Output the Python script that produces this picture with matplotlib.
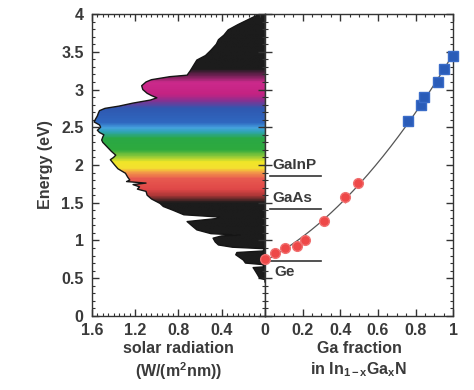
import numpy as np
import matplotlib
matplotlib.use('Agg')
import matplotlib.pyplot as plt
from matplotlib.colors import LinearSegmentedColormap
from matplotlib.ticker import MultipleLocator, FixedLocator

plt.rcParams['font.family'] = ['Liberation Sans', 'DejaVu Sans']
plt.rcParams['font.weight'] = 'bold'
plt.rcParams['axes.labelweight'] = 'bold'
plt.rcParams['mathtext.fontset'] = 'custom'
plt.rcParams['mathtext.rm'] = 'Liberation Sans:bold'
plt.rcParams['mathtext.it'] = 'Liberation Sans:bold'
plt.rcParams['mathtext.bf'] = 'Liberation Sans:bold'
txt = '#3a3a3a'

# solar spectrum, energy (eV) vs radiation (W/(m^2 nm))
spec_E = [0.45, 0.48, 0.50, 0.55, 0.62, 0.64, 0.65, 0.68, 0.70, 0.74, 0.78, 0.81,
          0.84, 0.86, 0.89, 0.91, 0.94, 0.98, 1.03, 1.06, 1.07, 1.09, 1.14, 1.20,
          1.25, 1.29, 1.31, 1.34, 1.40, 1.45, 1.49, 1.55, 1.60, 1.65, 1.68, 1.71,
          1.74, 1.76, 1.78, 1.80, 1.84, 1.89, 1.95, 2.00, 2.07, 2.10, 2.13, 2.18,
          2.24, 2.30, 2.33, 2.37, 2.40, 2.43, 2.46, 2.50, 2.53, 2.57, 2.60, 2.65,
          2.69, 2.72, 2.75, 2.78, 2.82, 2.86, 2.89, 2.92, 2.95, 3.00, 3.05, 3.10,
          3.13, 3.17, 3.19, 3.25, 3.32, 3.39, 3.45, 3.52, 3.60, 3.66, 3.72, 3.79,
          3.86, 3.93, 4.00]
spec_rad = [0.0, 0.0, 0.05, 0.07, 0.10, 0.11, 0.01, 0.02, 0.18, 0.20, 0.24, 0.27,
            0.26, 0.02, 0.0, 0.30, 0.43, 0.46, 0.48, 0.40, 0.23, 0.50, 0.63, 0.68,
            0.72, 0.45, 0.42, 0.75, 0.85, 0.94, 0.97, 1.05, 1.09, 1.10, 1.18, 1.16,
            1.22, 1.10, 1.28, 1.25, 1.27, 1.29, 1.36, 1.39, 1.43, 1.40, 1.38, 1.42,
            1.46, 1.50, 1.51, 1.50, 1.49, 1.53, 1.55, 1.52, 1.53, 1.58, 1.57, 1.55,
            1.54, 1.53, 1.48, 1.35, 1.22, 1.06, 1.00, 1.05, 1.09, 1.13, 1.14, 1.10,
            1.05, 0.88, 0.72, 0.69, 0.66, 0.63, 0.55, 0.50, 0.45, 0.43, 0.38, 0.34,
            0.25, 0.15, 0.05]

# InGaN band gap data
red_x = [0.0, 0.053, 0.106, 0.168, 0.213, 0.314, 0.426, 0.495]
red_E = [0.76, 0.84, 0.90, 0.93, 1.01, 1.26, 1.57, 1.76]
red_err = [0.03, 0.03, 0.03, 0.04, 0.04, 0.05, 0.07, 0.05]
blue_x = [0.759, 0.828, 0.846, 0.917, 0.949, 0.998]
blue_E = [2.58, 2.79, 2.90, 3.10, 3.27, 3.44]
blue_err = [0.03, 0.04, 0.04, 0.03, 0.03, 0.04]

# reference cells
cell_names = ['GaInP', 'GaAs', 'Ge']
cell_E = [1.85, 1.41, 0.73]

# rainbow colouring by energy
stops = [(0.0, '#1c1c1c'), (1.50, '#1c1c1c'), (1.60, '#b03838'), (1.68, '#e04848'),
         (1.82, '#e85a50'), (1.90, '#f39a48'), (1.96, '#f5e030'), (2.04, '#f0e628'),
         (2.12, '#8cc83a'), (2.20, '#2eaa3e'), (2.36, '#2aa845'), (2.44, '#2fa5b5'),
         (2.50, '#46a2e0'), (2.56, '#2f68c0'), (2.76, '#3058b0'), (2.86, '#8a3090'),
         (2.94, '#c42282'), (3.10, '#cc2a8c'), (3.20, '#6a2050'), (3.28, '#1c1c1c'),
         (4.0, '#1c1c1c')]
cmap = LinearSegmentedColormap.from_list('sun', [(e / 4.0, c) for e, c in stops])

fig = plt.figure(figsize=(4.74, 3.9), dpi=100)
ax1 = fig.add_axes([0.194, 0.19, 0.365, 0.774])
ax2 = fig.add_axes([0.559, 0.19, 0.397, 0.774])

grad = np.linspace(0, 4, 400).reshape(-1, 1)
img = ax1.imshow(grad, cmap=cmap, vmin=0, vmax=4, aspect='auto', origin='lower',
                 extent=[0, 1.6, 0, 4], interpolation='bilinear', zorder=1)
poly = ax1.fill_betweenx(spec_E, 0, spec_rad, facecolor='none', edgecolor='none')
img.set_clip_path(poly.get_paths()[0], transform=ax1.transData)
ax1.plot(spec_rad, spec_E, color='#151515', lw=1.0, zorder=2)

ax1.set_xlim(1.6, 0)
ax1.set_ylim(0, 4)
ax1.xaxis.set_major_locator(FixedLocator([1.6, 1.2, 0.8, 0.4]))
ax1.xaxis.set_minor_locator(MultipleLocator(0.05))
ax1.yaxis.set_major_locator(MultipleLocator(0.5))
ax1.yaxis.set_minor_locator(MultipleLocator(0.1))
ax1.set_xticklabels(['1.6', '1.2', '0.8', '0.4'])
ax1.set_yticks([0, 0.5, 1, 1.5, 2, 2.5, 3, 3.5, 4])
ax1.set_yticklabels(['0', '0.5', '1', '1.5', '2', '2.5', '3', '3.5', '4'])
ax1.set_ylabel('Energy (eV)', fontsize=11.5, color=txt, labelpad=6)
ax1.set_xlabel('solar radiation\n(W/(m$^2$nm))', fontsize=11.5, color=txt,
               labelpad=2, linespacing=1.3)

# fit curve through data
all_x = np.array(red_x + blue_x)
all_E = np.array(red_E + blue_E)
coef = np.polyfit(all_x, all_E, 2)
xx = np.linspace(0, 1, 200)
ax2.plot(xx, np.polyval(coef, xx), color='#555555', lw=0.9, zorder=2)

ax2.errorbar(red_x, red_E, yerr=red_err, fmt='o', ms=7, color='#ee4848',
             mec='#f07070', ecolor='#ee6060', elinewidth=1, capsize=0,
             zorder=3, clip_on=False)
ax2.errorbar(blue_x, blue_E, yerr=blue_err, fmt='s', ms=7, color='#2a5cb8',
             mec='#3a6cc8', ecolor='#2a5cb8', elinewidth=1, capsize=0,
             zorder=3, clip_on=False)

for name, e in zip(cell_names, cell_E):
    ax2.plot([0.027, 0.296], [e, e], color='#333333', lw=1.2)
    if name == 'Ge':
        ax2.text(0.05, e - 0.06, name, fontsize=11, color=txt, va='top')
    else:
        ax2.text(0.04, e + 0.06, name, fontsize=11, color=txt, va='bottom')

ax2.set_xlim(0, 1)
ax2.set_ylim(0, 4)
ax2.xaxis.set_major_locator(MultipleLocator(0.2))
ax2.xaxis.set_minor_locator(MultipleLocator(0.05))
ax2.yaxis.set_major_locator(MultipleLocator(0.5))
ax2.yaxis.set_minor_locator(MultipleLocator(0.1))
ax2.set_xticks([0, 0.2, 0.4, 0.6, 0.8, 1])
ax2.set_xticklabels(['0', '0.2', '0.4', '0.6', '0.8', '1'])
ax2.set_yticklabels([])
ax2.set_xlabel('Ga fraction\nin In$_{1-x}$Ga$_x$N', fontsize=11.5, color=txt,
               labelpad=2, linespacing=1.3)

for ax in (ax1, ax2):
    for sp in ax.spines.values():
        sp.set_color('#333333')
        sp.set_linewidth(1.0)
    ax.tick_params(which='both', direction='in', top=True, right=True,
                   colors='#333333', labelcolor=txt, labelsize=11.5, pad=5)
    ax.tick_params(which='major', length=5, width=1)
    ax.tick_params(which='minor', length=2.5, width=0.8)
ax1.tick_params(axis='y', pad=6)

fig.savefig('out.png', dpi=100)
